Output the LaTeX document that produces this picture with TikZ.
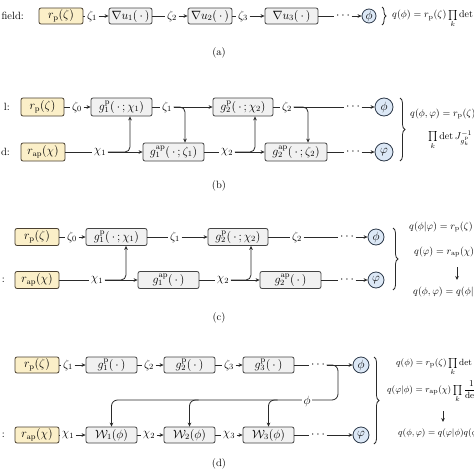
\documentclass[tikz,border=0pt]{standalone}
\usetikzlibrary{arrows.meta,decorations.pathreplacing,calc}
\definecolor{priorc}{HTML}{FBEFC8}
\definecolor{priord}{HTML}{4A4030}
\definecolor{boxc}{HTML}{F1F1F1}
\definecolor{boxd}{HTML}{444444}
\definecolor{circc}{HTML}{DCE8F6}
\definecolor{circd}{HTML}{2E3A4A}
\definecolor{linec}{HTML}{2A2A2A}
\tikzset{
  every node/.style={font=\fontsize{11.5}{13}\selectfont},
  prior/.style={draw=priord, fill=priorc, rounded corners=2pt, line width=0.8pt, minimum height=17, minimum width=44, inner sep=0},
  fbox/.style={draw=boxd, fill=boxc, rounded corners=2pt, line width=0.8pt, minimum height=17, inner sep=0},
  circ/.style={circle, draw=circd, fill=circc, line width=0.8pt, minimum size=16, inner sep=0},
  lab/.style={inner sep=1.5pt},
  ln/.style={line width=0.8pt, draw=linec},
  arr/.style={line width=0.8pt, draw=linec, -{Stealth[length=4pt,width=3.6pt]}},
  brc/.style={line width=0.8pt, draw=linec, decorate, decoration={brace, amplitude=4pt}},
  frm/.style={font=\fontsize{10}{12}\selectfont, inner sep=0, anchor=west},
  subcap/.style={font=\fontsize{10.5}{12}\selectfont},
  side/.style={font=\fontsize{10.5}{12}\selectfont, anchor=east, inner sep=0}
}
\begin{document}
\begin{tikzpicture}[x=1pt,y=-1pt]
\useasboundingbox (0,0) rectangle (474,474);
\clip (0,0) rectangle (474,474);
\fill[white] (0,0) rectangle (474,474);

% ---------------- (a)
\node[side] (aL) at (24,16) {field:};
\node[prior, minimum height=16] (aP) at (61,16) {$r_{\mathrm p}(\zeta)$};
\node[lab] (az1) at (92,16) {$\zeta_1$};
\node[fbox, minimum width=43, minimum height=16] (aU1) at (130.5,16) {$\nabla u_1(\,\cdot\,)$};
\node[lab] (az2) at (172,16) {$\zeta_2$};
\node[fbox, minimum width=44, minimum height=16] (aU2) at (210,16) {$\nabla u_2(\,\cdot\,)$};
\node[lab] (az3) at (243,16) {$\zeta_3$};
\node[fbox, minimum width=53, minimum height=16] (aU3) at (291.5,16) {$\nabla u_3(\,\cdot\,)$};
\node[lab] (ad) at (343,16) {$\cdots$};
\node[circ, minimum size=14] (aPhi) at (369,16) {$\phi$};
\draw[ln] (aP) -- (az1);
\draw[arr] (az1) -- (aU1);
\draw[ln] (aU1) -- (az2);
\draw[arr] (az2) -- (aU2);
\draw[ln] (aU2) -- (az3);
\draw[arr] (az3) -- (aU3);
\draw[ln] (aU3) -- (ad);
\draw[arr] (ad) -- (aPhi);
\coordinate (abt) at (382,7);
\coordinate (abb) at (382,25);
\draw[brc] (abt) -- (abb);
\node[frm, font=\fontsize{9.6}{11}\selectfont] (aF) at (392,19) {$q(\phi) = r_{\mathrm p}(\zeta)\prod\limits_k \det$};
\node[subcap] (aC) at (219,53) {(a)};

% ---------------- (b)
\node[side] (bL1) at (10,107) {l:};
\node[side] (bL2) at (10,152) {d:};
\node[prior, minimum width=43, minimum height=18] (bP) at (42.5,107) {$r_{\mathrm p}(\zeta)$};
\node[lab] (bz0) at (77,107) {$\zeta_0$};
\node[fbox, minimum width=61, minimum height=18] (bG1) at (121.5,107) {$g_1^{\mathrm p}(\,\cdot\,;\chi_1)$};
\node[lab] (bz1) at (167,107) {$\zeta_1$};
\node[fbox, minimum width=60, minimum height=18] (bG2) at (243,107) {$g_2^{\mathrm p}(\,\cdot\,;\chi_2)$};
\node[lab] (bz2) at (287,107) {$\zeta_2$};
\node[lab] (bd1) at (353,107) {$\cdots$};
\node[circ, minimum size=18] (bPhi) at (384,107) {$\phi$};
\node[prior, minimum width=44, minimum height=18] (bA) at (43,152) {$r_{\mathrm{ap}}(\chi)$};
\node[lab] (bx1) at (100,152) {$\chi_1$};
\node[fbox, minimum width=61, minimum height=18] (bA1) at (173.5,152) {$g_1^{\mathrm{ap}}(\,\cdot\,;\zeta_1)$};
\node[lab] (bx2) at (227,152) {$\chi_2$};
\node[fbox, minimum width=62, minimum height=18] (bA2) at (296,152) {$g_2^{\mathrm{ap}}(\,\cdot\,;\zeta_2)$};
\node[lab] (bd2) at (353,152) {$\cdots$};
\node[circ, minimum size=18] (bVphi) at (384,152) {$\varphi$};
\draw[ln] (bP) -- (bz0);
\draw[arr] (bz0) -- (bG1);
\draw[ln] (bG1) -- (bz1);
\draw[arr] (bz1) -- (bG2);
\draw[arr, rounded corners=5] (bz1.east) -| ([xshift=11.5]bA1.north);
\draw[ln] (bG2) -- (bz2);
\draw[ln] (bz2) -- (bd1);
\draw[arr] (bd1) -- (bPhi);
\draw[arr, rounded corners=5] (bz2.east) -| ([xshift=12]bA2.north);
\draw[ln] (bA) -- (bx1);
\draw[arr] (bx1) -- (bA1);
\draw[arr, rounded corners=5] (bx1.east) -| ([xshift=8.5]bG1.south);
\draw[ln] (bA1) -- (bx2);
\draw[arr] (bx2) -- (bA2);
\draw[arr, rounded corners=5] (bx2.east) -| ([xshift=12]bG2.south);
\draw[ln] (bA2) -- (bd2);
\draw[arr] (bd2) -- (bVphi);
\coordinate (bbt) at (400,98);
\coordinate (bbb) at (400,161);
\draw[brc, decoration={brace, amplitude=5pt}] (bbt) -- (bbb);
\node[frm] (bF1) at (410,114) {$q(\phi,\varphi) = r_{\mathrm p}(\zeta)$};
\node[frm] (bF2) at (428,140) {$\prod\limits_k \det J^{-1}_{g_k^{\mathrm p}}$};
\node[subcap] (bC) at (219,186) {(b)};

% ---------------- (c)
\node[side] (cL) at (5,280) {:};
\node[prior] (cP) at (37,237) {$r_{\mathrm p}(\zeta)$};
\node[lab] (cz0) at (72,237) {$\zeta_0$};
\node[fbox, minimum width=61] (cG1) at (116.5,237) {$g_1^{\mathrm p}(\,\cdot\,;\chi_1)$};
\node[lab] (cz1) at (175,237) {$\zeta_1$};
\node[fbox, minimum width=60] (cG2) at (238,237) {$g_2^{\mathrm p}(\,\cdot\,;\chi_2)$};
\node[lab] (cz2) at (297,237) {$\zeta_2$};
\node[lab] (cd1) at (347,237) {$\cdots$};
\node[circ] (cPhi) at (376,237) {$\phi$};
\node[prior] (cA) at (37,280) {$r_{\mathrm{ap}}(\chi)$};
\node[lab] (cx1) at (97,280) {$\chi_1$};
\node[fbox, minimum width=61] (cA1) at (168.5,280) {$g_1^{\mathrm{ap}}(\,\cdot\,)$};
\node[lab] (cx2) at (223,280) {$\chi_2$};
\node[fbox, minimum width=61] (cA2) at (290.5,280) {$g_2^{\mathrm{ap}}(\,\cdot\,)$};
\node[lab] (cd2) at (347,280) {$\cdots$};
\node[circ] (cVphi) at (376,280) {$\varphi$};
\draw[ln] (cP) -- (cz0);
\draw[arr] (cz0) -- (cG1);
\draw[ln] (cG1) -- (cz1);
\draw[arr] (cz1) -- (cG2);
\draw[ln] (cG2) -- (cz2);
\draw[ln] (cz2) -- (cd1);
\draw[arr] (cd1) -- (cPhi);
\draw[ln] (cA) -- (cx1);
\draw[arr] (cx1) -- (cA1);
\draw[arr, rounded corners=5] (cx1.east) -| ([xshift=9.5]cG1.south);
\draw[ln] (cA1) -- (cx2);
\draw[arr] (cx2) -- (cA2);
\draw[arr, rounded corners=5] (cx2.east) -| ([xshift=13]cG2.south);
\draw[ln] (cA2) -- (cd2);
\draw[arr] (cd2) -- (cVphi);
\coordinate (cbt) at (393,228);
\coordinate (cbb) at (393,290);
\draw[brc, decoration={brace, amplitude=5pt}] (cbt) -- (cbb);
\node[frm] (cF1) at (409,227) {$q(\phi|\varphi) = r_{\mathrm p}(\zeta)$};
\node[frm] (cF2) at (414,252) {$q(\varphi) = r_{\mathrm{ap}}(\chi)$};
\coordinate (caT) at (457,267);
\coordinate (caB) at (457,280);
\draw[arr] (caT) -- (caB);
\node[frm] (cF3) at (413,292) {$q(\phi,\varphi) = q(\phi|\varphi)q(\varphi)$};
\node[subcap] (cC) at (219,318) {(c)};

% ---------------- (d)
\node[side] (dL) at (5,435) {:};
\node[prior, minimum height=16] (dP) at (37,365) {$r_{\mathrm p}(\zeta)$};
\node[lab] (dz1) at (68,365) {$\zeta_1$};
\node[fbox, minimum width=51, minimum height=16] (dG1) at (111.5,365) {$g_1^{\mathrm p}(\,\cdot\,)$};
\node[lab] (dz2) at (149,365) {$\zeta_2$};
\node[fbox, minimum width=51, minimum height=16] (dG2) at (189.5,365) {$g_2^{\mathrm p}(\,\cdot\,)$};
\node[lab] (dz3) at (229,365) {$\zeta_3$};
\node[fbox, minimum width=51, minimum height=16] (dG3) at (268.5,365) {$g_3^{\mathrm p}(\,\cdot\,)$};
\node[lab] (dd1) at (318,365) {$\cdots$};
\node[circ] (dPhi) at (361,365) {$\phi$};
\node[prior, minimum height=16] (dA) at (37,435) {$r_{\mathrm{ap}}(\chi)$};
\node[lab] (dx1) at (68,435) {$\chi_1$};
\node[fbox, minimum width=51, minimum height=16] (dW1) at (111.5,435) {$\mathcal{W}_1(\phi)$};
\node[lab] (dx2) at (149,435) {$\chi_2$};
\node[fbox, minimum width=51, minimum height=16] (dW2) at (189.5,435) {$\mathcal{W}_2(\phi)$};
\node[lab] (dx3) at (229,435) {$\chi_3$};
\node[fbox, minimum width=51, minimum height=16] (dW3) at (268.5,435) {$\mathcal{W}_3(\phi)$};
\node[lab] (dd2) at (318,435) {$\cdots$};
\node[circ] (dVphi) at (361,435) {$\varphi$};
\node[lab] (dphl) at (307,401) {$\phi$};
\draw[ln] (dP) -- (dz1);
\draw[arr] (dz1) -- (dG1);
\draw[ln] (dG1) -- (dz2);
\draw[arr] (dz2) -- (dG2);
\draw[ln] (dG2) -- (dz3);
\draw[arr] (dz3) -- (dG3);
\draw[ln] (dG3) -- (dd1);
\draw[arr] (dd1) -- (dPhi);
\coordinate (dturn) at (338,400);
\draw[ln, rounded corners=6] (dd1.east) -| (dturn) -- (dphl.east |- dturn);
\draw[arr, rounded corners=6] (dphl.west |- dturn) -| (dW1.north);
\draw[arr, rounded corners=6] ($(dW2.north |- dturn)+(9,0)$) -| (dW2.north);
\draw[arr, rounded corners=6] ($(dW3.north |- dturn)+(9,0)$) -| (dW3.north);
\draw[ln] (dA) -- (dx1);
\draw[arr] (dx1) -- (dW1);
\draw[ln] (dW1) -- (dx2);
\draw[arr] (dx2) -- (dW2);
\draw[ln] (dW2) -- (dx3);
\draw[arr] (dx3) -- (dW3);
\draw[ln] (dW3) -- (dd2);
\draw[arr] (dd2) -- (dVphi);
\coordinate (dbt) at (374,357);
\coordinate (dbb) at (374,444);
\draw[brc, decoration={brace, amplitude=5pt}] (dbt) -- (dbb);
\node[frm, font=\fontsize{9.5}{12}\selectfont] (dF1) at (396,367) {$q(\phi) = r_{\mathrm p}(\zeta)\prod\limits_k \det$};
\node[frm, font=\fontsize{9.5}{12}\selectfont] (dF2) at (387,392) {$q(\varphi|\phi) = r_{\mathrm{ap}}(\chi)\prod\limits_k {\displaystyle\frac{1}{\det}}$};
\coordinate (daT) at (443,411);
\coordinate (daB) at (443,422);
\draw[arr] (daT) -- (daB);
\node[frm, font=\fontsize{9.5}{12}\selectfont] (dF3) at (398,433) {$q(\phi,\varphi) = q(\varphi|\phi)q(\phi)$};
\node[subcap] (dC) at (219,464) {(d)};
\end{tikzpicture}
\end{document}
